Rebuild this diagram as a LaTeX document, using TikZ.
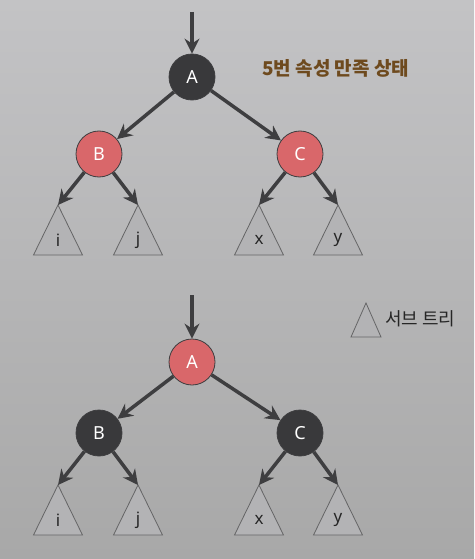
\documentclass[tikz,border=0pt]{standalone}
\usepackage{fontspec}
\setmainfont{Noto Sans}
\newfontfamily\kofont{Noto Sans CJK KR}
\usetikzlibrary{arrows.meta}
\definecolor{bgtop}{HTML}{C3C3C5}
\definecolor{bgbot}{HTML}{A8A8A8}
\definecolor{nodedark}{HTML}{39393B}
\definecolor{nodered}{HTML}{D9676A}
\definecolor{edgecol}{HTML}{3E3E40}
\definecolor{tricol}{HTML}{B3B3B5}
\definecolor{titlecol}{HTML}{6E4A1E}
\tikzset{
  rbnode/.style={circle, minimum size=46pt, inner sep=0pt, draw=edgecol, line width=0.8pt,
     text=white, font=\fontsize{18}{18}\selectfont\bfseries},
  blacknode/.style={rbnode, fill=nodedark},
  rednode/.style={rbnode, fill=nodered},
  edgearrow/.style={draw=edgecol, line width=3.5pt,
     -{Stealth[length=15pt,width=15pt,inset=5pt]}},
  subtree/.style={draw=edgecol!80, line width=0.8pt, fill=tricol},
  leaflabel/.style={font=\fontsize{17}{17}\selectfont, text=black!85, inner sep=0pt},
}
\begin{document}
\begin{tikzpicture}[x=1pt,y=-1pt]
\useasboundingbox (0,0) rectangle (474,559);
\shade[top color=bgtop, bottom color=bgbot] (0,0) rectangle (474,559);

% ---------- top tree ----------
\node[blacknode] (A1) at (192,77) {A};
\node[rednode] (B1) at (99,154) {B};
\node[rednode] (C1) at (300,154) {C};
\coordinate (in1) at (192,12);
\foreach \n/\x in {i1/58, j1/138, x1/259, y1/338} {
  \coordinate (\n) at (\x,205);
  \filldraw[subtree] (\x,205) -- (\x-24.5,255) -- (\x+24.5,255) -- cycle;
}
\node[leaflabel] (li1) at (58,240) {i};
\node[leaflabel] (lj1) at (138,240) {j};
\node[leaflabel] (lx1) at (259,240) {x};
\node[leaflabel] (ly1) at (338,240) {y};
\draw[edgearrow] (in1) -- (A1);
\draw[edgearrow] (A1) -- (B1);
\draw[edgearrow] (A1) -- (C1);
\draw[edgearrow] (B1) -- (i1);
\draw[edgearrow] (B1) -- (j1);
\draw[edgearrow] (C1) -- (x1);
\draw[edgearrow] (C1) -- (y1);

\node[text=titlecol, font=\kofont\bfseries\fontsize{19}{19}\selectfont, anchor=west, inner sep=0pt] (title) at (262,68) {5번 속성 만족 상태};

% ---------- legend ----------
\coordinate (lg) at (366,303);
\filldraw[subtree] (366,303) -- (351,337) -- (381,337) -- cycle;
\node[text=black!85, font=\kofont\fontsize{18}{18}\selectfont, anchor=west, inner sep=0pt] (legend) at (385,319) {서브 트리};

% ---------- bottom tree ----------
\node[rednode] (A2) at (192,362) {A};
\node[blacknode] (B2) at (99,433) {B};
\node[blacknode] (C2) at (300,433) {C};
\coordinate (in2) at (192,295);
\foreach \n/\x in {i2/58, j2/138, x2/259, y2/338} {
  \coordinate (\n) at (\x,485);
  \filldraw[subtree] (\x,485) -- (\x-24.5,535) -- (\x+24.5,535) -- cycle;
}
\node[leaflabel] (li2) at (58,520) {i};
\node[leaflabel] (lj2) at (138,520) {j};
\node[leaflabel] (lx2) at (259,520) {x};
\node[leaflabel] (ly2) at (338,520) {y};
\draw[edgearrow] (in2) -- (A2);
\draw[edgearrow] (A2) -- (B2);
\draw[edgearrow] (A2) -- (C2);
\draw[edgearrow] (B2) -- (i2);
\draw[edgearrow] (B2) -- (j2);
\draw[edgearrow] (C2) -- (x2);
\draw[edgearrow] (C2) -- (y2);
\end{tikzpicture}
\end{document}
